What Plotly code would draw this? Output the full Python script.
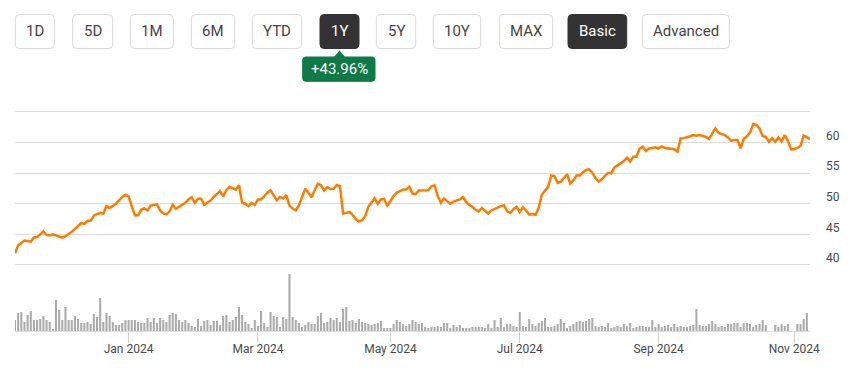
import plotly.graph_objects as go
import pandas as pd

# ---------------- data ----------------
holidays = ["2023-11-23", "2023-12-25", "2024-01-01", "2024-01-15", "2024-02-19",
            "2024-03-29", "2024-05-27", "2024-06-19", "2024-07-04", "2024-09-02"]
trade_days = pd.bdate_range("2023-11-08", "2024-11-08", freq="C", holidays=holidays)
dates = [d.strftime("%Y-%m-%d") for d in trade_days]

close_1 = [41.9, 43.2, 43.6, 44.0, 43.9, 43.8, 44.5, 44.55, 45.0, 45.5,
           44.9, 44.8, 45.0, 44.8, 44.6, 44.45, 44.7, 45.05, 45.4, 45.9,
           46.4, 46.85, 46.7, 47.2, 47.2, 48.05, 48.3, 48.5, 48.4, 49.6,
           49.3, 49.6, 50.0, 50.55, 51.1, 51.45, 51.2, 49.6, 48.1, 48.1,
           49.0, 49.25, 48.9, 49.7, 49.8, 49.9, 48.9, 48.4, 48.25, 48.75,
           49.85]
close_2 = [49.15, 49.5, 49.8, 50.15, 50.7, 51.05, 50.15, 50.8, 50.8,
           49.8, 50.2, 50.5, 51.1, 51.6, 52.05, 51.2, 52.2, 52.75, 52.5,
           52.3, 53.0, 50.15, 50.0, 49.6, 50.15, 49.8, 50.7, 50.7, 51.2,
           51.8, 52.2, 51.3, 50.55, 51.1, 50.85, 51.4, 49.7, 49.2, 48.9,
           49.7, 51.2, 52.45, 51.8, 51.05, 52.2, 53.25, 53.0, 52.15, 52.7,
           52.4, 52.45]
close_3 = [53.05, 52.85, 48.4, 48.5, 48.65, 48.2, 47.5, 47.1, 47.3, 47.95,
           49.5, 50.2, 50.9, 50.0, 50.7, 50.8, 49.6, 50.4, 51.25, 51.8,
           52.0, 52.3, 52.3, 52.75, 51.65, 51.55, 52.15, 52.2, 52.2, 52.2,
           52.85, 53.0, 51.25, 50.15, 50.85, 50.4, 50.0, 50.35, 50.55, 50.7,
           51.1, 50.3, 49.8, 49.5, 49.0, 48.75, 49.3, 48.8, 48.4, 48.9]
close_4 = [49.15, 49.4, 49.6, 49.75, 48.75, 48.5, 49.1, 49.5, 48.65, 49.4,
           48.9, 48.2, 48.3, 48.2, 49.3, 51.5, 52.1, 52.75, 54.6, 54.5,
           53.4, 53.6, 54.2, 54.8, 53.3, 53.8, 54.6, 54.6, 55.1, 55.5,
           55.6, 55.05, 54.2, 53.6, 54.0, 54.5, 55.05, 54.95, 55.9, 56.25,
           56.6, 56.95, 57.5, 56.9, 57.65, 57.65, 59.0, 59.3, 58.6, 59.0,
           59.1]
close_5 = [59.2, 59.0, 59.35, 59.1, 59.05, 59.05, 58.9, 58.5, 60.65, 60.7,
           60.8, 61.0, 61.2, 61.1, 61.2, 61.0, 60.9, 60.55, 61.4, 62.3,
           61.55, 61.4, 61.2, 60.8, 60.25, 60.4, 60.4, 59.05, 60.55, 61.0,
           61.6, 63.0, 62.85, 62.3, 61.0, 60.9, 60.1, 60.7, 60.1, 60.8,
           60.15, 61.2, 60.25, 58.9, 58.9, 59.1, 59.45, 61.1, 60.8, 60.55]
close = close_1 + close_2 + close_3 + close_4 + close_5

# volume, millions of shares (None = no bar shown)
vol_1 = [2.2, 3.6, 3.8, 1.8, 3.2, 4.0, 2.2, 2.2, 2.4, 3.0, 2.2, 1.8, 0.4, 6.2, 4.2,
         2.2, 4.8, 2.2, 2.2, 3.0, 2.4, 1.6, 1.6, 1.8, 1.4, 3.4, 2.8, 6.6, 1.8, 3.6,
         3.0, 1.8, 1.2, 1.2, 1.6, 2.2, 2.2, 2.2, 2.2, 1.8, 1.6, 1.6, 2.6, 1.8, 2.6,
         1.6, 2.6, 2.2, 1.8, 3.2, 3.6]
vol_2 = [3.4, 2.2, 1.8, 2.2, 1.6, 1.0, 0.8, 2.4, 1.0, 2.0, 2.2, 1.2, 2.0, 2.0, 1.2,
         3.0, 3.2, 1.8, 2.2, 2.8, 4.8, 3.2, 1.8, 1.4, 0.6, 2.2, 1.0, 4.0, 1.6, 0.8,
         3.8, 3.0, 2.8, 0.8, 2.8, 2.4, 11.4, 2.8, 2.2, 1.6, 0.8, 1.2, 1.8, 1.4, 1.4,
         3.0, 3.6, 1.6, 1.8, 2.6, 2.2]
vol_3 = [2.6, 1.8, 4.4, 4.8, 2.0, 2.2, 1.6, 2.4, 1.8, 1.6, 1.4, 1.2, 1.4, 1.6, 2.0,
         0.6, 0.6, 0.6, 1.4, 2.2, 1.8, 1.4, 1.0, 1.4, 2.2, 1.8, 1.4, 1.6, 0.8, 0.6,
         0.8, 0.8, 1.0, 0.8, 1.6, 1.6, 0.6, 1.2, 0.8, 1.2, 0.6, 0.6, 0.6, 0.8, 0.8,
         0.8, 0.8, 0.6, 1.4, 0.6]
vol_4 = [2.2, 0.8, 2.6, 0.8, 1.4, 1.4, 1.0, 0.8, 3.8, 1.0, 0.8, 2.4, 1.4, 1.0, 1.6,
         2.0, 2.6, 0.8, 0.8, 1.0, 1.4, 2.4, 1.6, 0.6, 1.0, 1.4, 1.8, 2.0, 1.8, 2.0,
         2.4, 2.6, 1.0, 0.8, 1.0, 0.8, 1.6, 0.6, 0.8, 1.0, 0.8, 1.4, 1.0, 1.6, 0.6,
         0.8, 1.0, 1.0, 0.8, 0.8, 2.2]
vol_5 = [0.8, 1.4, 0.8, 1.0, 1.2, 0.8, 1.4, 0.8, 1.0, 0.8, 0.8, 1.0, 1.2, 4.4, 1.2,
         1.0, 1.0, 1.4, 2.0, 1.4, 0.8, 1.0, 0.8, 1.4, 1.4, 1.6, 1.6, 0.8, 1.6, 1.6,
         1.4, 0.8, 1.2, 1.4, 2.2, 1.2, None, None, 1.2, 0.8, 1.4, 1.0, 1.4, None, None,
         1.4, 1.4, 2.4, 3.6, None]
volume = vol_1 + vol_2 + vol_3 + vol_4 + vol_5

assert len(dates) == len(close) == len(volume), (len(dates), len(close), len(volume))

price_ticks = [40, 45, 50, 55, 60, 65]
price_tick_text = ["40", "45", "50", "55", "60", ""]
month_ticks = ["2024-01-02", "2024-03-01", "2024-05-01", "2024-07-01", "2024-09-03", "2024-11-01"]
month_labels = ["Jan 2024", "Mar 2024", "May 2024", "Jul 2024", "Sep 2024", "Nov 2024"]

range_buttons = ["1D", "5D", "1M", "6M", "YTD", "1Y", "5Y", "10Y", "MAX", "Basic", "Advanced"]
active_buttons = ["1Y", "Basic"]
change_text = "+43.96%"

# ---------------- layout helpers ----------------
W, H = 857, 370
ML, MR, MT, MB = 15, 47, 100, 39
PW, PH = W - ML - MR, H - MT - MB


def px_x(px):
    return (px - ML) / PW


def px_y(py):
    return (H - MB - py) / PH


def rrect(x0, x1, y0, y1, r):
    X, Y = px_x, px_y
    return (f"M {X(x0 + r)},{Y(y0)} L {X(x1 - r)},{Y(y0)} Q {X(x1)},{Y(y0)} {X(x1)},{Y(y0 + r)} "
            f"L {X(x1)},{Y(y1 - r)} Q {X(x1)},{Y(y1)} {X(x1 - r)},{Y(y1)} "
            f"L {X(x0 + r)},{Y(y1)} Q {X(x0)},{Y(y1)} {X(x0)},{Y(y1 - r)} "
            f"L {X(x0)},{Y(y0 + r)} Q {X(x0)},{Y(y0)} {X(x0 + r)},{Y(y0)} Z")


button_x = [(15.3, 54.3), (72.7, 112.7), (130.3, 173.3), (191.3, 234.7), (252.3, 301.7),
            (320, 359), (376.3, 415.7), (433.3, 480.7), (499.3, 552.7), (568, 626.7),
            (642.3, 729.3)]
BTN_Y0, BTN_Y1 = 14.5, 48.5

shapes = []
annotations = []
for label, (bx0, bx1) in zip(range_buttons, button_x):
    active = label in active_buttons
    shapes.append(dict(type="path", xref="paper", yref="paper",
                       path=rrect(bx0, bx1, BTN_Y0, BTN_Y1, 4),
                       fillcolor="#333333" if active else "#ffffff",
                       line=dict(color="#333333" if active else "#d9d9d9", width=1),
                       layer="above"))
    annotations.append(dict(xref="paper", yref="paper", x=px_x((bx0 + bx1) / 2),
                            y=px_y((BTN_Y0 + BTN_Y1) / 2 - 0.5), text=label, showarrow=False,
                            xanchor="center", yanchor="middle",
                            font=dict(family="Roboto", size=15,
                                      color="#ffffff" if active else "#444444")))

# change badge with pointer
GREEN = "#0f7a47"
shapes.append(dict(type="path", xref="paper", yref="paper",
                   path=rrect(302.7, 375, 57, 81.3, 3), fillcolor=GREEN,
                   line=dict(color=GREEN, width=1), layer="above"))
shapes.append(dict(type="path", xref="paper", yref="paper",
                   path=f"M {px_x(333.5)},{px_y(57.5)} L {px_x(339.5)},{px_y(50.5)} "
                        f"L {px_x(345.5)},{px_y(57.5)} Z",
                   fillcolor=GREEN, line=dict(color=GREEN, width=0), layer="above"))
annotations.append(dict(xref="paper", yref="paper", x=px_x(339), y=px_y(69.3),
                        text=change_text, showarrow=False, xanchor="center", yanchor="middle",
                        font=dict(family="Roboto", size=15, color="#ffffff")))

# ---------------- figure ----------------
fig = go.Figure()
fig.add_trace(go.Bar(x=dates, y=volume, yaxis="y2", marker=dict(color="#aaaaaa", line=dict(width=0)),
                     hoverinfo="skip", showlegend=False))
fig.add_trace(go.Scatter(x=dates, y=close, mode="lines",
                         line=dict(color="#ff7b00", width=2.5),
                         hoverinfo="skip", showlegend=False))

fig.update_layout(
    width=W, height=H,
    margin=dict(l=ML, r=MR, t=MT, b=MB, pad=0),
    paper_bgcolor="#ffffff", plot_bgcolor="#ffffff",
    font=dict(family="Roboto", size=12, color="#4a4a4a"),
    bargap=0.35,
    showlegend=False,
    shapes=shapes,
    annotations=annotations,
    xaxis=dict(type="category", range=[0, len(dates) - 1],
               tickmode="array", tickvals=month_ticks, ticktext=month_labels,
               showgrid=False, zeroline=False,
               showline=True, linecolor="#dddddd", linewidth=1,
               ticks="outside", ticklen=11, tickcolor="#d0d0d0", tickwidth=1,
               ticklabelstandoff=-4,
               tickfont=dict(family="Roboto", size=12, color="#4a4a4a"),
               automargin=False, fixedrange=True),
    yaxis=dict(range=[29.23, 66.92], side="right",
               tickmode="array", tickvals=price_ticks, ticktext=price_tick_text,
               showgrid=True, gridcolor="#dddddd", gridwidth=1,
               zeroline=False, showline=False, ticks="",
               ticklabelstandoff=15, ticklabelshift=-7,
               tickfont=dict(family="Roboto", size=12, color="#4a4a4a"),
               automargin=False, fixedrange=True),
    yaxis2=dict(range=[0, 46.2], overlaying="y", visible=False, showgrid=False,
                fixedrange=True),
)

fig.write_html("out.html", config={"displayModeBar": False, "staticPlot": True},
               post_script="document.body.style.margin='0';document.body.style.overflow='hidden';")
